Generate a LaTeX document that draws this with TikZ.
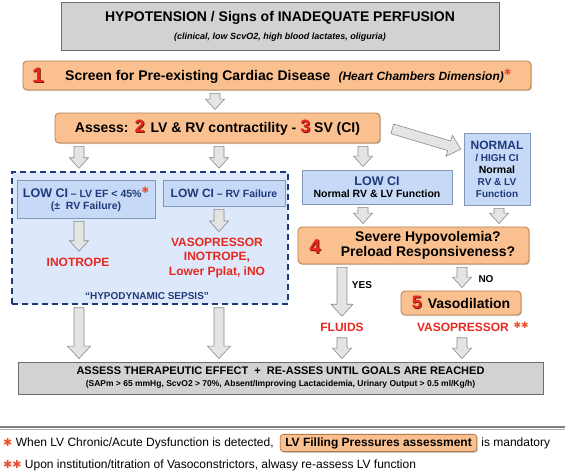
\documentclass[tikz,border=0pt]{standalone}
\usepackage{fontspec}
\setmainfont{Liberation Sans}
\newfontfamily\symfont{DejaVu Sans}
\usetikzlibrary{calc,shadows}

\definecolor{orangefill}{HTML}{FAC08F}
\definecolor{orangeline}{HTML}{B27B4B}
\definecolor{grayfill}{HTML}{D2D2D2}
\definecolor{grayline}{HTML}{6E6E6E}
\definecolor{bluefill}{HTML}{C6D9F6}
\definecolor{blueline}{HTML}{8397B9}
\definecolor{sepsisfill}{HTML}{DDE9FB}
\definecolor{navy}{HTML}{1F3A7A}
\definecolor{alarmred}{HTML}{E8281E}
\definecolor{shadowred}{HTML}{7A1A10}
\definecolor{arrowfill}{HTML}{E4E4E4}
\definecolor{arrowline}{HTML}{8A8A8A}
\definecolor{starred}{HTML}{E8502A}

\newcommand{\fsz}[2]{\fontsize{#1}{#2}\selectfont}
\newcommand{\redstar}[1][9pt]{\textcolor{starred}{\symfont\fsz{#1}{#1}✱}}
% red step number with a dark shadow
\newcommand{\stepdigit}[1]{\rlap{\kern0.9pt\raisebox{-0.9pt}{\color{shadowred}#1}}{\color{alarmred}#1}}
\newcommand{\bignumber}[1]{{\fsz{18pt}{18pt}\stepdigit{#1}}}

% hollow block arrow, optional arg = half width of the head
\newcommand{\blockarrow}[3][9.5pt]{%
  \coordinate (ba-s) at (#2);
  \coordinate (ba-t) at (#3);
  \coordinate (ba-a) at ($(ba-s)!3pt!(ba-t)$);
  \coordinate (ba-b) at ($(ba-t)!3pt!(ba-s)$);
  \coordinate (ba-n) at ($(ba-b)!{#1+1pt}!(ba-a)$);
  \draw[blockarr] ($(ba-a)!5pt!90:(ba-b)$) -- ($(ba-n)!5pt!90:(ba-b)$)
    -- ($(ba-n)!#1!90:(ba-b)$) -- (ba-b) -- ($(ba-n)!#1!-90:(ba-b)$)
    -- ($(ba-n)!5pt!-90:(ba-b)$) -- ($(ba-a)!5pt!-90:(ba-b)$) -- cycle;}

\begin{document}
\begin{tikzpicture}[x=1pt,y=-1pt,
    every node/.style={font=\bfseries},
    boxshadow/.style={drop shadow={shadow xshift=1.2pt,shadow yshift=-1.2pt,opacity=.35}},
    graybox/.style={draw=grayline, fill=grayfill, line width=0.8pt, boxshadow, inner sep=0pt, align=center},
    orangebox/.style={draw=orangeline, fill=orangefill, rounded corners=4pt, line width=0.8pt, boxshadow, inner sep=0pt},
    bluebox/.style={draw=blueline, fill=bluefill, line width=0.8pt, inner sep=0pt, align=center, text=navy},
    sepsisbox/.style={draw=navy, fill=sepsisfill, dash pattern=on 6pt off 4pt, line width=1.5pt},
    bignum/.style={font=\bfseries\fsz{21pt}{21pt}},
    redtext/.style={text=alarmred, font=\bfseries\fsz{12pt}{14.5pt}, align=center},
    smalltext/.style={font=\bfseries\fsz{10pt}{12pt}},
    notetext/.style={anchor=west, inner sep=0pt, font=\fsz{12pt}{14pt}},
    blockarr/.style={draw=arrowline, fill=arrowfill, line width=0.6pt, line join=miter}]
    \useasboundingbox (0,0) rectangle (565,471);

    % Arrow columns
    \coordinate (colS) at (215,0);
    \coordinate (colA) at (79,0);
    \coordinate (colB) at (219,0);
    \coordinate (colC) at (363,0);
    \coordinate (colD) at (499,0);
    \coordinate (colE) at (342,0);
    \coordinate (colF) at (462,0);

    % Header
    \node[graybox, minimum width=438pt, minimum height=48pt] (top) at (280,26)
        {{\fsz{14pt}{16pt}HYPOTENSION / Signs of INADEQUATE PERFUSION}\\[6pt]
         {\fsz{9pt}{11pt}\itshape (clinical, low ScvO2, high blood lactates, oliguria)}};

    % Step 1
    \node[orangebox, minimum width=508pt, minimum height=29pt] (screen) at (277,75.5) {};
    \node[bignum] (n1) at (38,76) {\stepdigit{1}};
    \node[anchor=west, inner sep=0pt, font=\bfseries\fsz{14pt}{16pt}] (screentext) at (65,76)
        {Screen for Pre-existing Cardiac Disease\hspace{8pt}{\fsz{12pt}{14pt}\itshape (Heart Chambers Dimension)}\raisebox{5pt}{\redstar}};

    % Step 2 and 3
    \node[orangebox, minimum width=325pt, minimum height=30pt, font=\bfseries\fsz{14pt}{16pt}] (assess) at (217.5,128)
        {Assess:\hspace{6pt}\bignumber{2}\hspace{6pt}LV \& RV contractility - \bignumber{3} SV (CI)};

    % Hypodynamic sepsis
    \node[sepsisbox, minimum width=276pt, minimum height=132pt] (sepsis) at (150,238) {};
    \node[bluebox, minimum width=138pt, minimum height=38pt] (lvbox) at (86,199)
        {{\fsz{12.5pt}{14pt}LOW CI} {\fsz{10.5pt}{12pt}– LV EF < 45\%}\raisebox{4pt}{\redstar}\\
         {\fsz{10.5pt}{12pt}(±\ \ RV Failure)}};
    \node[bluebox, minimum width=122pt, minimum height=26pt] (rvbox) at (224,193)
        {{\fsz{12pt}{14pt}LOW CI} {\fsz{10.5pt}{12pt}– RV Failure}};
    \node[redtext] (ino) at (78,262) {INOTROPE};
    \node[redtext] (vaso) at (217,258) {VASOPRESSOR\\INOTROPE,\\Lower Pplat, iNO};
    \node[smalltext, text=navy] (hypo) at (147,296) {“HYPODYNAMIC SEPSIS”};

    % Cardiac index boxes
    \node[bluebox, minimum width=150pt, minimum height=34pt] (lowci) at (377,187)
        {{\fsz{12.5pt}{14pt}LOW CI}\\{\color{black}\fsz{10.5pt}{12pt}Normal RV \& LV Function}};
    \node[bluebox, minimum width=66pt, minimum height=72pt] (normal) at (497,169)
        {\fsz{12pt}{14pt}NORMAL\\/ HIGH CI\\\color{black}\fsz{10.5pt}{12.5pt}Normal\\RV \& LV\\Function};

    % Step 4
    \node[orangebox, minimum width=231pt, minimum height=37pt] (hypovol) at (413.5,245.5) {};
    \node[bignum, font=\bfseries\fsz{20pt}{20pt}] (n4) at (315,247) {\stepdigit{4}};
    \node[align=center, font=\bfseries\fsz{14pt}{15pt}] (hypovoltext) at (428,245.5)
        {Severe Hypovolemia?\\Preload Responsiveness?};
    \node[smalltext] (yes) at (362,285) {YES};
    \node[smalltext] (no) at (486,279) {NO};

    % Step 5
    \node[orangebox, minimum width=120pt, minimum height=24pt, font=\bfseries\fsz{14pt}{16pt}] (vasodil) at (461,303)
        {\bignumber{5}\hspace{6pt}Vasodilation};
    \node[redtext] (fluids) at (342,327) {FLUIDS};
    \node[redtext] (vasopress) at (463,327) {VASOPRESSOR};
    \node[anchor=west, inner sep=1pt] (vpstars) at ([yshift=2pt]vasopress.east) {\redstar\redstar};

    % Goals
    \node[graybox, minimum width=525pt, minimum height=32pt] (goals) at (280.5,378)
        {{\fsz{11pt}{12pt}ASSESS THERAPEUTIC EFFECT \ + \ RE-ASSES UNTIL GOALS ARE REACHED}\\
         {\fsz{8.5pt}{10pt}(SAPm > 65 mmHg, ScvO2 > 70\%, Absent/Improving Lactacidemia, Urinary Output > 0.5 ml/Kg/h)}};

    % Arrows
    \blockarrow{screen.south -| colS}{assess.north -| colS}
    \blockarrow{assess.south -| colA}{sepsis.north -| colA}
    \blockarrow{assess.south -| colB}{sepsis.north -| colB}
    \blockarrow{assess.south -| colC}{lowci.north -| colC}
    \blockarrow[11pt]{[xshift=9pt]assess.east}{[yshift=19pt]normal.west}
    \blockarrow{lvbox.south -| colA}{ino.north -| colA}
    \blockarrow{rvbox.south -| colB}{vaso.north -| colB}
    \blockarrow{lowci.south -| colC}{hypovol.north -| colC}
    \blockarrow{normal.south -| colD}{hypovol.north -| colD}
    \blockarrow[11pt]{hypovol.south -| colE}{fluids.north -| colE}
    \blockarrow{hypovol.south -| colF}{vasodil.north -| colF}
    \blockarrow{fluids.south -| colE}{goals.north -| colE}
    \blockarrow{vasopress.south -| colF}{goals.north -| colF}
    \blockarrow[11.5pt]{sepsis.south -| colA}{goals.north -| colA}
    \blockarrow[11.5pt]{sepsis.south -| colB}{goals.north -| colB}

    % Footnotes
    \draw[line width=1.5pt, gray] (0,427) -- (565,427);
    \draw[line width=0.6pt, gray!60] (0,429.5) -- (565,429.5);
    \node[notetext] (fn1) at (3,443) {\redstar[11pt] When LV Chronic/Acute Dysfunction is detected,};
    \node[orangebox, anchor=west, font=\bfseries\fsz{12pt}{14pt}, inner xsep=5pt, inner ysep=3pt, rounded corners=3pt] (fnbox) at ([xshift=6pt]fn1.east)
        {LV Filling Pressures assessment};
    \node[notetext] (fn1end) at ([xshift=4pt]fnbox.east) {is mandatory};
    \node[notetext] (fn2) at (3,465) {\redstar[11pt]\redstar[11pt] Upon institution/titration of Vasoconstrictors, alwasy re-assess LV function};
\end{tikzpicture}
\end{document}
